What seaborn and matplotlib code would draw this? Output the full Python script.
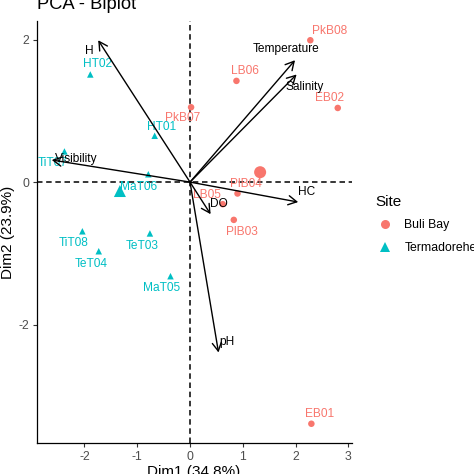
import matplotlib
matplotlib.use("Agg")
import matplotlib.pyplot as plt
from matplotlib.lines import Line2D
import seaborn as sns
import pandas as pd
import numpy as np

# ---------------- data ----------------
buli_names = ["PkB08", "LB06", "EB02", "PkB07", "PlB04", "LB05", "PlB03", "EB01"]
buli_x = [2.28, 0.88, 2.80, 0.02, 0.90, 0.62, 0.83, 2.30]
buli_y = [1.99, 1.42, 1.04, 1.05, -0.16, -0.31, -0.53, -3.39]

term_names = ["HT02", "HT01", "TiT07", "MaT06", "TiT08", "TeT04", "TeT03", "MaT05"]
term_x = [-1.89, -0.67, -2.38, -0.79, -2.04, -1.73, -0.76, -0.37]
term_y = [1.51, 0.65, 0.43, 0.11, -0.69, -0.97, -0.72, -1.32]

var_names = ["H", "Visibility", "Temperature", "Salinity", "HC", "DO", "pH"]
var_x = [-1.74, -2.62, 1.99, 2.02, 2.05, 0.39, 0.54]
var_y = [1.99, 0.31, 1.71, 1.51, -0.28, -0.45, -2.39]

sites = ["Buli Bay", "Termadorehe"]
x_ticks = [-2, -1, 0, 1, 2, 3]
y_ticks = [-2, 0, 2]

# ---------------- layout (label offsets in px) ----------------
ind_off = {
    "PkB08": (19, -9), "LB06": (8, -10), "EB02": (-8, -10), "PkB07": (-8, 11),
    "PlB04": (8, -10), "LB05": (-16, -9), "PlB03": (8, 12), "EB01": (8, -10),
    "HT02": (7, -10), "HT01": (7, -9), "TiT07": (-12, 12), "MaT06": (-10, 13),
    "TiT08": (-9, 12), "TeT04": (-8, 13), "TeT03": (-8, 13), "MaT05": (-9, 12),
}
var_off = {
    "H": (-9, 11), "Visibility": (24, -1), "Temperature": (-9, -11),
    "Salinity": (8, 13), "HC": (8, -10), "DO": (8, -10), "pH": (8, -10),
}

RED = "#F8766D"
TEAL = "#00BFC4"
palette = {sites[0]: RED, sites[1]: TEAL}

df = pd.DataFrame({
    "name": buli_names + term_names,
    "x": buli_x + term_x,
    "y": buli_y + term_y,
    "Site": [sites[0]] * len(buli_names) + [sites[1]] * len(term_names),
})
cent = df.groupby("Site", as_index=False)[["x", "y"]].mean()

plt.rcParams["font.family"] = ["Liberation Sans", "DejaVu Sans"]

W = 474
fig = plt.figure(figsize=(4.74, 4.74), dpi=100)
ax = fig.add_axes([37 / W, 1 - 443 / W, (352 - 37) / W, (443 - 21) / W])

PX = 0.72  # points per pixel

ax.axhline(0, color="black", lw=1.1, ls=(0, (3.6, 2.4)), zorder=1)
ax.axvline(0, color="black", lw=1.1, ls=(0, (3.6, 2.4)), zorder=1)

sns.scatterplot(data=df, x="x", y="y", hue="Site", style="Site",
                palette=palette, markers={sites[0]: "o", sites[1]: "^"},
                s=22, linewidth=0, legend=False, ax=ax, zorder=3)
sns.scatterplot(data=cent, x="x", y="y", hue="Site", style="Site",
                palette=palette, markers={sites[0]: "o", sites[1]: "^"},
                s=75, linewidth=0, legend=False, ax=ax, zorder=3)

for _, r in df.iterrows():
    dx, dy = ind_off[r["name"]]
    ax.annotate(r["name"], (r["x"], r["y"]), xytext=(dx * PX, -dy * PX),
                textcoords="offset points", ha="center", va="center",
                fontsize=8.6, color=palette[r["Site"]], zorder=4)

for n, vx, vy in zip(var_names, var_x, var_y):
    ax.annotate("", xy=(vx, vy), xytext=(0, 0),
                arrowprops=dict(arrowstyle="->,head_length=0.55,head_width=0.3",
                                lw=1.0, color="black", shrinkA=0, shrinkB=0,
                                mutation_scale=11), zorder=5)
    dx, dy = var_off[n]
    ax.annotate(n, (vx, vy), xytext=(dx * PX, -dy * PX),
                textcoords="offset points", ha="center", va="center",
                fontsize=8.6, color="black", zorder=6)

ax.set_xlim(-2.90, 3.07)
ax.set_ylim(-3.66, 2.26)
ax.set_xticks(x_ticks)
ax.set_yticks(y_ticks)
ax.set_xticklabels([str(t) for t in x_ticks])
ax.set_yticklabels([str(t) for t in y_ticks])
ax.tick_params(axis="both", length=3, width=0.8, color="#333333",
               labelsize=8.8, labelcolor="#4D4D4D", pad=2.5)
for s in ["top", "right"]:
    ax.spines[s].set_visible(False)
for s in ["left", "bottom"]:
    ax.spines[s].set_linewidth(0.9)
    ax.spines[s].set_color("black")
ax.set_xlabel("")
ax.set_ylabel("")

fig.text(194 / W, 1 - 465 / W, "Dim1 (34.8%)", ha="center", va="top", fontsize=11)
fig.text(8 / W, 1 - 232 / W, "Dim2 (23.9%)", ha="center", va="center",
         rotation=90, fontsize=11)
fig.text(37 / W, 1 - 9 / W, "PCA - Biplot", ha="left", va="baseline", fontsize=13.2)

handles = [
    Line2D([], [], marker="o", ls="", color=RED, markersize=6.5, markeredgewidth=0),
    Line2D([], [], marker="^", ls="", color=TEAL, markersize=7.5, markeredgewidth=0),
]
leg = fig.legend(handles, sites, loc="upper left",
                 bbox_to_anchor=(375 / W, 1 - 195 / W), frameon=False,
                 title="Site", title_fontsize=11, fontsize=8.8,
                 borderpad=0, borderaxespad=0, handlelength=1.6,
                 handletextpad=0.8, labelspacing=0.85, alignment="left")

fig.savefig("out.png", dpi=100)
